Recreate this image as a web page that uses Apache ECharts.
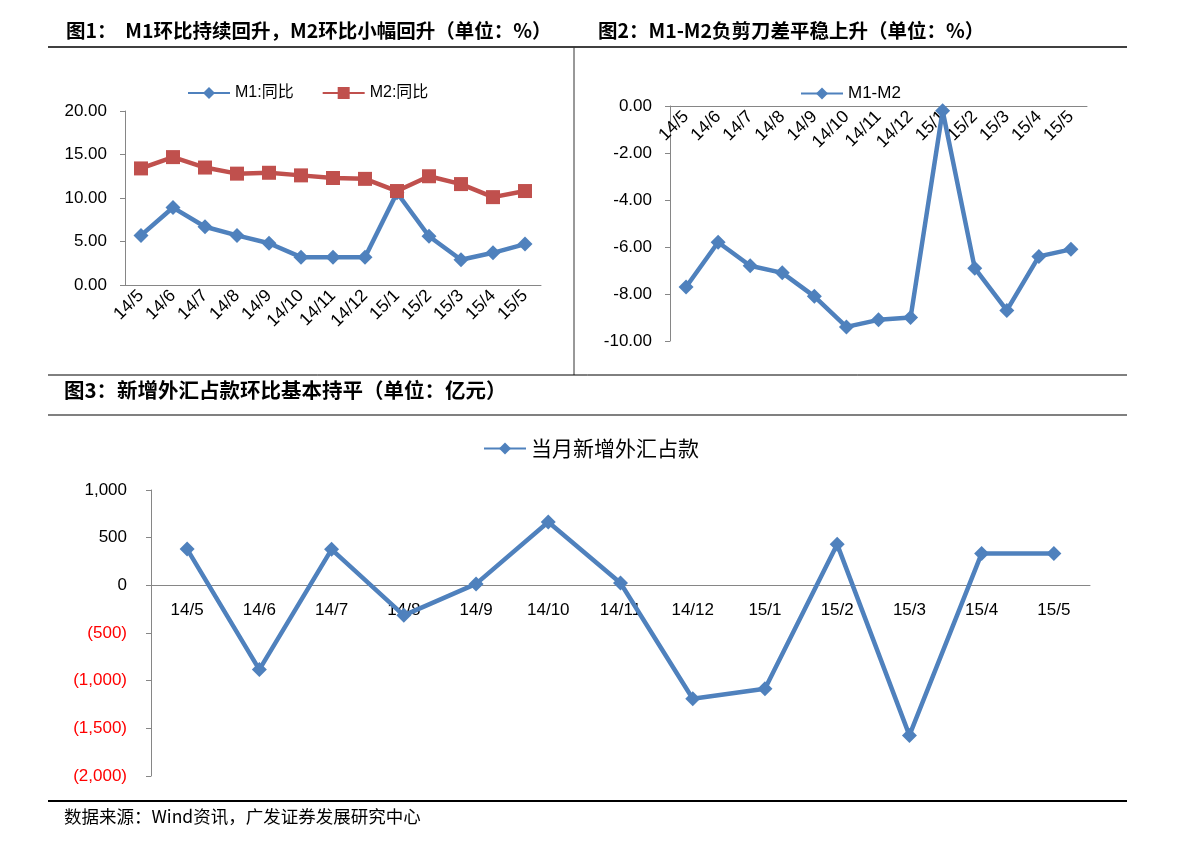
<!DOCTYPE html>
<html>
<head>
<meta charset="utf-8">
<style>
  html, body { margin: 0; padding: 0; background: #fff; }
  #main { width: 1191px; height: 847px; }
</style>
<script src="https://cdn.jsdelivr.net/npm/echarts@6/dist/echarts.min.js"></script>
</head>
<body>
<div id="main"></div>
<script>
// 月份
var months = ['14/5', '14/6', '14/7', '14/8', '14/9', '14/10', '14/11', '14/12', '15/1', '15/2', '15/3', '15/4', '15/5'];
// 图1 M1、M2 同比
var m1Yoy = [5.7, 8.9, 6.7, 5.7, 4.8, 3.2, 3.2, 3.2, 10.6, 5.6, 2.9, 3.7, 4.7];
var m2Yoy = [13.4, 14.7, 13.5, 12.8, 12.9, 12.6, 12.3, 12.2, 10.8, 12.5, 11.6, 10.1, 10.8];
// 图2 M1-M2 剪刀差
var m1m2Gap = [-7.7, -5.8, -6.8, -7.1, -8.1, -9.4, -9.1, -9.0, -0.2, -6.9, -8.7, -6.4, -6.1];
// 图3 当月新增外汇占款（亿元）
var fxNew = [380, -884, 378, -315, 15, 664, 24, -1189, -1084, 430, -1574, 335, 335];

var blue = '#4F81BD';
var red = '#C0504D';
var axisGray = '#868686';
var titleFont = '"Noto Sans CJK SC", sans-serif';
var numFont = '"Liberation Sans", "Noto Sans CJK SC", sans-serif';

var chartDom = document.getElementById('main');
var myChart = echarts.init(chartDom);

function hline(x1, x2, y, w, c) {
  return { type: 'line', shape: { x1: x1, y1: y, x2: x2, y2: y }, style: { stroke: c, lineWidth: w }, silent: true };
}

// (1,000) 这种会计格式
function fxLabel(v) {
  var s = Math.abs(v).toString().replace(/\B(?=(\d{3})+(?!\d))/g, ',');
  return v < 0 ? '(' + s + ')' : s;
}

var titleStyle = { fontFamily: titleFont, fontSize: 19.5, fontWeight: 'bold', color: '#000' };

// 图2、图3 的横轴画在 0 那条线上，用单独的小 grid 来放
var option = {
  backgroundColor: '#fff',
  animation: false,
  title: [
    { text: '图1：  M1环比持续回升，M2环比小幅回升（单位：%）', left: 61, top: 16, textStyle: titleStyle },
    { text: '图2：M1-M2负剪刀差平稳上升（单位：%）', left: 593, top: 16, textStyle: titleStyle },
    { text: '图3：新增外汇占款环比基本持平（单位：亿元）', left: 59, top: 375,
      textStyle: { fontFamily: titleFont, fontSize: 20.5, fontWeight: 'bold', color: '#000' } },
    { text: '数据来源：Wind资讯，广发证券发展研究中心', left: 59, top: 803,
      textStyle: { fontFamily: titleFont, fontSize: 17.5, fontWeight: 'normal', color: '#000' } }
  ],
  graphic: [
    hline(48, 1127, 47, 1.5, '#000'),
    { type: 'line', shape: { x1: 574, y1: 47, x2: 574, y2: 375 }, style: { stroke: '#333', lineWidth: 1 }, silent: true },
    hline(48, 1127, 375, 1, '#000'),
    hline(48, 1127, 415, 2, '#808080'),
    hline(48, 1127, 801, 2, '#000')
  ],
  legend: [
    { data: ['M1:同比', 'M2:同比'], left: 182, top: 80, itemWidth: 42, itemHeight: 15, itemGap: 28,
      textStyle: { fontFamily: numFont, fontSize: 16, color: '#000' } },
    { data: ['M1-M2'], left: 795, top: 80, itemWidth: 42, itemHeight: 15,
      textStyle: { fontFamily: numFont, fontSize: 17, color: '#000' } },
    { data: ['当月新增外汇占款'], left: 478, top: 433, itemWidth: 42, itemHeight: 15,
      textStyle: { fontFamily: titleFont, fontSize: 21, color: '#000' } }
  ],
  grid: [
    { left: 125, top: 111, width: 416, height: 174 },
    { left: 670, top: 106, width: 417, height: 235 },
    { left: 151, top: 490, width: 939, height: 286 },
    { left: 670, top: 105, width: 417, height: 1 },
    { left: 151, top: 490, width: 939, height: 95 }
  ],
  xAxis: [
    { type: 'category', gridIndex: 0, data: months,
      axisLine: { lineStyle: { color: axisGray } },
      axisTick: { lineStyle: { color: axisGray } },
      axisLabel: { rotate: 45, color: '#000', fontFamily: numFont, fontSize: 17.5, margin: 8, interval: 0 } },
    { type: 'category', gridIndex: 1, data: months, show: false },
    { type: 'category', gridIndex: 2, data: months, show: false },
    { type: 'category', gridIndex: 3, data: months,
      axisLine: { onZero: false, lineStyle: { color: axisGray } },
      axisTick: { lineStyle: { color: axisGray } },
      axisLabel: { rotate: 45, color: '#000', fontFamily: numFont, fontSize: 17.5, margin: 8, interval: 0 } },
    { type: 'category', gridIndex: 4, data: months,
      axisLine: { onZero: false, lineStyle: { color: axisGray } },
      axisTick: { inside: true, lineStyle: { color: axisGray } },
      axisLabel: { color: '#000', fontFamily: numFont, fontSize: 17, margin: 17, interval: 0 } }
  ],
  yAxis: [
    { type: 'value', gridIndex: 0, min: 0, max: 20, interval: 5,
      splitLine: { show: false },
      axisLine: { show: true, lineStyle: { color: axisGray } },
      axisTick: { show: true, lineStyle: { color: axisGray } },
      axisLabel: { color: '#000', fontFamily: numFont, fontSize: 17, margin: 18,
        formatter: function (v) { return v.toFixed(2); } } },
    { type: 'value', gridIndex: 1, min: -10, max: 0, interval: 2,
      splitLine: { show: false },
      axisLine: { show: true, lineStyle: { color: axisGray } },
      axisTick: { show: true, lineStyle: { color: axisGray } },
      axisLabel: { color: '#000', fontFamily: numFont, fontSize: 17, margin: 18,
        formatter: function (v) { return v.toFixed(2); } } },
    { type: 'value', gridIndex: 2, min: -2000, max: 1000, interval: 500,
      splitLine: { show: false },
      axisLine: { show: true, lineStyle: { color: axisGray } },
      axisTick: { show: true, lineStyle: { color: axisGray } },
      axisLabel: { fontFamily: numFont, fontSize: 17, margin: 24,
        color: function (v) { return Number(v) < 0 ? '#FF0000' : '#000'; },
        formatter: fxLabel } },
    { type: 'value', gridIndex: 3, show: false },
    { type: 'value', gridIndex: 4, show: false }
  ],
  series: [
    { name: 'M1:同比', type: 'line', xAxisIndex: 0, yAxisIndex: 0, data: m1Yoy,
      symbol: 'diamond', symbolSize: 15, color: blue, lineStyle: { width: 4.5, color: blue } },
    { name: 'M2:同比', type: 'line', xAxisIndex: 0, yAxisIndex: 0, data: m2Yoy,
      symbol: 'rect', symbolSize: 14, color: red, lineStyle: { width: 4.5, color: red } },
    { name: 'M1-M2', type: 'line', xAxisIndex: 1, yAxisIndex: 1, data: m1m2Gap,
      symbol: 'diamond', symbolSize: 15, color: blue, lineStyle: { width: 4.5, color: blue } },
    { name: '当月新增外汇占款', type: 'line', xAxisIndex: 2, yAxisIndex: 2, data: fxNew,
      symbol: 'diamond', symbolSize: 15, color: blue, lineStyle: { width: 4.5, color: blue } }
  ]
};

myChart.setOption(option);
</script>
</body>
</html>
